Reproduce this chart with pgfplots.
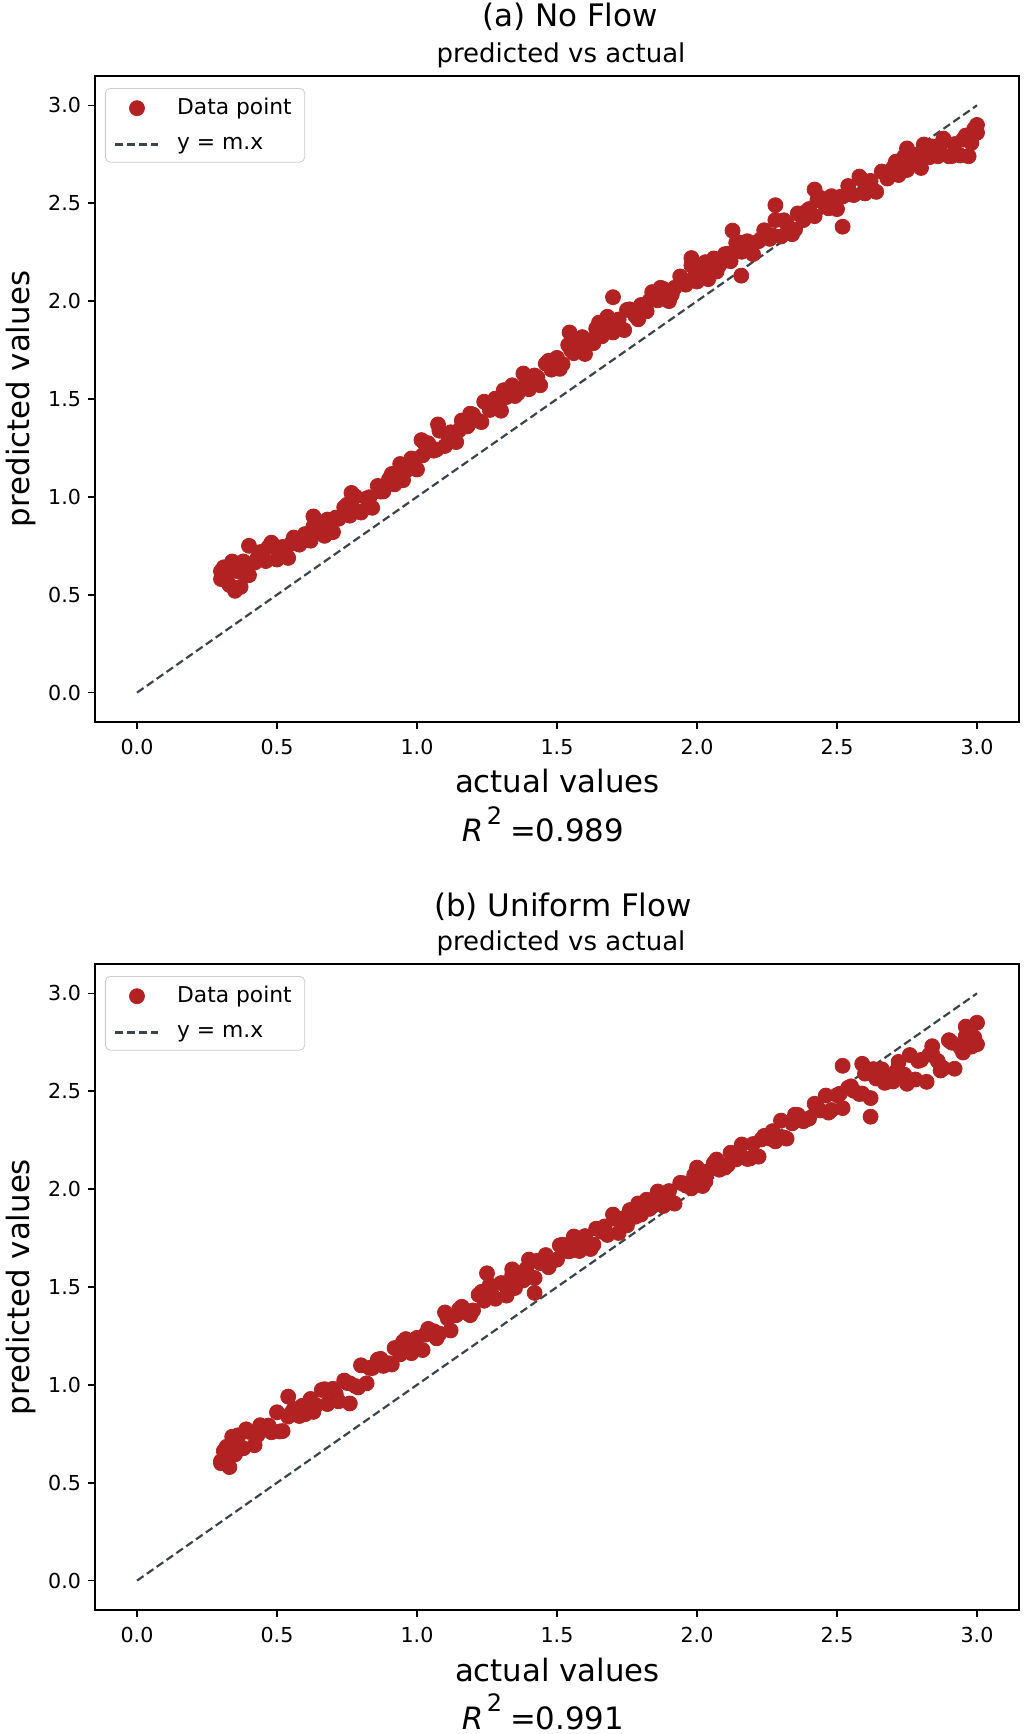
\documentclass[border=0pt]{standalone}
\usepackage{pgfplots}
\pgfplotsset{compat=1.18}
\usepackage{pgfplotstable}
\usepackage{fontspec}
\setmainfont{DejaVu Sans}
\definecolor{fb}{RGB}{178,34,34}
\definecolor{dsg}{RGB}{58,68,74}

\pgfplotstableread{
x y
0.30 0.62
0.32 0.58
0.34 0.67
0.36 0.62
0.38 0.67
0.40 0.60
0.42 0.664
0.44 0.718
0.46 0.672
0.48 0.766
0.50 0.68
0.52 0.744
0.54 0.688
0.56 0.792
0.58 0.756
0.60 0.81
0.62 0.776
0.64 0.872
0.66 0.828
0.68 0.884
0.70 0.82
0.72 0.888
0.74 0.946
0.76 0.904
0.78 1.002
0.80 0.92
0.82 0.992
0.84 0.944
0.86 1.056
0.88 1.028
0.90 1.09
0.92 1.064
0.94 1.168
0.96 1.132
0.98 1.196
1.00 1.14
1.02 1.212
1.04 1.274
1.06 1.236
1.08 1.338
1.10 1.26
1.12 1.33
1.14 1.28
1.16 1.39
1.18 1.36
1.20 1.42
1.22 1.388
1.24 1.486
1.26 1.444
1.28 1.502
1.30 1.44
1.32 1.51
1.34 1.57
1.36 1.53
1.38 1.63
1.40 1.55
1.42 1.62
1.44 1.57
1.46 1.68
1.48 1.65
1.50 1.71
1.52 1.678
1.54 1.776
1.56 1.734
1.58 1.792
1.60 1.73
1.62 1.80
1.64 1.86
1.66 1.82
1.68 1.92
1.70 1.84
1.72 1.906
1.74 1.852
1.76 1.958
1.78 1.924
1.80 1.98
1.82 1.948
1.84 2.046
1.86 2.004
1.88 2.062
1.90 2.00
1.92 2.068
1.94 2.126
1.96 2.084
1.98 2.182
2.00 2.10
2.02 2.166
2.04 2.112
2.06 2.218
2.08 2.184
2.10 2.24
2.12 2.204
2.14 2.298
2.16 2.252
2.18 2.306
2.20 2.24
2.22 2.306
2.24 2.362
2.26 2.318
2.28 2.414
2.30 2.33
2.32 2.396
2.34 2.342
2.36 2.448
2.38 2.414
2.40 2.47
2.42 2.434
2.44 2.528
2.46 2.482
2.48 2.536
2.50 2.47
2.52 2.534
2.54 2.588
2.56 2.542
2.58 2.636
2.60 2.55
2.62 2.614
2.64 2.558
2.66 2.662
2.68 2.626
2.70 2.68
2.72 2.644
2.74 2.738
2.76 2.692
2.78 2.746
2.80 2.68
2.82 2.74
2.84 2.79
2.86 2.74
2.88 2.83
2.90 2.74
2.92 2.802
2.94 2.744
2.96 2.846
2.98 2.808
3.00 2.86
0.31 0.595
0.35 0.66
0.39 0.60
0.43 0.686
0.47 0.744
0.51 0.702
0.55 0.76
0.59 0.773
0.63 0.849
0.67 0.801
0.71 0.894
0.75 0.96
0.79 0.926
0.83 0.998
0.87 1.027
0.91 1.117
0.95 1.085
0.99 1.193
1.03 1.268
1.07 1.242
1.11 1.315
1.15 1.34
1.19 1.425
1.23 1.382
1.27 1.478
1.31 1.545
1.35 1.515
1.39 1.585
1.43 1.61
1.47 1.695
1.51 1.654
1.55 1.75
1.59 1.816
1.63 1.785
1.67 1.855
1.71 1.878
1.75 1.955
1.79 1.907
1.83 2.002
1.87 2.068
1.91 2.034
1.95 2.10
1.99 2.121
2.03 2.199
2.07 2.151
2.11 2.242
2.15 2.30
2.19 2.258
2.23 2.319
2.27 2.336
2.31 2.413
2.35 2.365
2.39 2.457
2.43 2.516
2.47 2.474
2.51 2.532
2.55 2.545
2.59 2.618
2.63 2.566
2.67 2.654
2.71 2.712
2.75 2.67
2.79 2.728
2.83 2.735
2.87 2.80
2.91 2.741
2.95 2.825
2.99 2.879
0.33 0.55
0.35 0.52
0.37 0.54
0.30 0.58
0.31 0.64
0.40 0.75
0.766 1.02
1.016 1.29
1.075 1.37
1.545 1.84
1.65 1.89
1.70 2.02
1.98 2.22
2.127 2.36
2.158 2.13
2.28 2.49
2.42 2.57
2.52 2.38
2.75 2.78
2.81 2.80
2.97 2.74
3.00 2.90
2.96 2.84
0.63 0.90
}\dataA

\pgfplotstableread{
x y
0.30 0.60
0.32 0.684
0.34 0.658
0.36 0.742
0.38 0.676
0.40 0.76
0.42 0.692
0.44 0.794
0.46 0.776
0.48 0.758
0.50 0.86
0.52 0.764
0.54 0.838
0.56 0.877
0.58 0.841
0.60 0.85
0.62 0.928
0.64 0.896
0.66 0.974
0.68 0.902
0.70 0.98
0.72 0.916
0.74 1.022
0.76 1.008
0.78 0.994
0.80 1.10
0.82 1.008
0.84 1.086
0.86 1.129
0.88 1.097
0.90 1.11
0.92 1.188
0.94 1.156
0.96 1.234
0.98 1.162
1.00 1.24
1.02 1.178
1.04 1.286
1.06 1.274
1.08 1.262
1.10 1.37
1.12 1.278
1.14 1.356
1.16 1.399
1.18 1.367
1.20 1.38
1.22 1.46
1.24 1.43
1.26 1.51
1.28 1.44
1.30 1.52
1.32 1.456
1.34 1.562
1.36 1.548
1.38 1.534
1.40 1.64
1.42 1.546
1.44 1.622
1.46 1.663
1.48 1.629
1.50 1.64
1.52 1.716
1.54 1.682
1.56 1.758
1.58 1.684
1.60 1.76
1.62 1.694
1.64 1.798
1.66 1.782
1.68 1.766
1.70 1.87
1.72 1.776
1.74 1.852
1.76 1.893
1.78 1.859
1.80 1.87
1.82 1.946
1.84 1.912
1.86 1.988
1.88 1.914
1.90 1.99
1.92 1.926
1.94 2.032
1.96 2.018
1.98 2.004
2.00 2.11
2.02 2.016
2.04 2.092
2.06 2.133
2.08 2.099
2.10 2.11
2.12 2.186
2.14 2.152
2.16 2.228
2.18 2.154
2.20 2.23
2.22 2.166
2.24 2.272
2.26 2.258
2.28 2.244
2.30 2.35
2.32 2.258
2.34 2.336
2.36 2.379
2.38 2.347
2.40 2.36
2.42 2.436
2.44 2.402
2.46 2.478
2.48 2.404
2.50 2.48
2.52 2.414
2.54 2.518
2.56 2.502
2.58 2.486
2.60 2.59
2.62 2.465
2.64 2.565
2.66 2.612
2.68 2.548
2.70 2.55
2.72 2.65
2.74 2.585
2.76 2.685
2.78 2.56
2.80 2.66
2.82 2.548
2.84 2.691
2.86 2.654
2.88 2.617
2.90 2.76
2.92 2.615
2.94 2.725
2.96 2.782
2.98 2.728
3.00 2.74
0.31 0.662
0.35 0.645
0.39 0.773
0.43 0.743
0.47 0.792
0.51 0.762
0.55 0.855
0.59 0.893
0.63 0.862
0.67 0.978
0.71 0.953
0.75 1.01
0.79 0.987
0.83 1.087
0.87 1.133
0.91 1.104
0.95 1.22
0.99 1.196
1.03 1.257
1.07 1.238
1.11 1.339
1.15 1.385
1.19 1.356
1.23 1.475
1.27 1.455
1.31 1.518
1.35 1.495
1.39 1.592
1.43 1.634
1.47 1.601
1.51 1.713
1.55 1.685
1.59 1.742
1.63 1.716
1.67 1.809
1.71 1.848
1.75 1.815
1.79 1.927
1.83 1.899
1.87 1.956
1.91 1.933
1.95 2.03
1.99 2.072
2.03 2.039
2.07 2.151
2.11 2.123
2.15 2.18
2.19 2.157
2.23 2.254
2.27 2.296
2.31 2.264
2.35 2.38
2.39 2.356
2.43 2.414
2.47 2.391
2.51 2.487
2.55 2.525
2.59 2.488
2.63 2.613
2.67 2.543
2.71 2.60
2.75 2.538
2.79 2.655
2.83 2.687
2.87 2.606
2.91 2.748
2.95 2.698
2.99 2.775
0.30 0.61
0.32 0.60
0.33 0.58
0.34 0.735
0.36 0.73
0.76 0.905
1.42 1.47
1.25 1.57
1.34 1.59
2.52 2.63
2.59 2.64
2.62 2.37
2.96 2.83
3.00 2.85
2.99 2.75
2.90 2.76
2.84 2.73
0.54 0.94
}\dataB

\pgfplotsset{
  pvstyle/.style={
    scale only axis, width=462pt, height=323pt,
    xmin=-0.15, xmax=3.15, ymin=-0.15, ymax=3.15,
    xtick={0,0.5,1,1.5,2,2.5,3}, ytick={0,0.5,1,1.5,2,2.5,3},
    tick align=outside, tick pos=left,
    major tick length=3.5pt,
    every tick/.style={black, line width=0.8pt},
    axis line style={black, line width=1pt},
    /pgf/number format/fixed, /pgf/number format/precision=1,
    /pgf/number format/fixed zerofill,
    /pgf/number format/assume math mode=true,
    ticklabel style={font=\fontsize{10.3}{12}\selectfont},
    xticklabel style={yshift=-1.5pt},
    legend cell align=left,
    legend style={at={(0.0108,0.9814)}, anchor=north west,
      draw=black!20, rounded corners=2.5pt, fill=white,
      font=\fontsize{10.9}{13}\selectfont,
      inner xsep=4.5pt, inner ysep=3pt, row sep=5.5pt,
      /tikz/every odd column/.append style={column sep=6.8pt}},
  },
  scat/.style={only marks, mark=*, mark size=3.75pt, color=fb,
    legend image code/.code={\draw[mark repeat=2,mark phase=2,##1] plot coordinates {(0pt,0pt) (10.75pt,0pt) (21.5pt,0pt)};}},
  diag/.style={dsg, line width=1.1pt, dash pattern=on 4pt off 2pt, no marks,
    legend image code/.code={\draw[##1] (0pt,0pt) -- (21.5pt,0pt);}},
}

\newcommand{\rsq}[1]{\fontsize{15.4}{18}\selectfont\textit{R}\hspace{1.8pt}\raisebox{1.05ex}{\fontsize{12}{13}\selectfont 2}\hspace{4pt}=#1}

\begin{document}
\begin{tikzpicture}
\path[use as bounding box] (-47.5pt,-62pt) rectangle (465pt,805pt);

\begin{axis}[pvstyle, at={(0pt,444pt)}, anchor=south west]
\addplot[scat] table {\dataA};
\addlegendentry{Data point}
\addplot[diag] coordinates {(0,0) (3,3)};
\addlegendentry{y = m.x}
\end{axis}

\begin{axis}[pvstyle, at={(0pt,0pt)}, anchor=south west]
\addplot[scat] table {\dataB};
\addlegendentry{Data point}
\addplot[diag] coordinates {(0,0) (3,3)};
\addlegendentry{y = m.x}
\end{axis}

% panel (a) texts
\node[anchor=base, inner sep=0pt, font=\fontsize{15.5}{18}\selectfont] at (237.5pt,791.5pt) {(a) No Flow};
\node[anchor=base, inner sep=0pt, font=\fontsize{13}{15}\selectfont] at (233pt,773.5pt) {predicted vs actual};
\node[anchor=base, inner sep=0pt, font=\fontsize{15.4}{18}\selectfont] at (231.25pt,408.5pt) {actual values};
\node[anchor=base, inner sep=0pt, text depth=0pt] at (224pt,384pt) {\rsq{0.989}};
\node[anchor=base, inner sep=0pt, rotate=90, font=\fontsize{15.4}{18}\selectfont] at (-33pt,605.5pt) {predicted values};

% panel (b) texts
\node[anchor=base, inner sep=0pt, font=\fontsize{15.5}{18}\selectfont] at (234pt,346.5pt) {(b) Uniform Flow};
\node[anchor=base, inner sep=0pt, font=\fontsize{13}{15}\selectfont] at (233pt,329.5pt) {predicted vs actual};
\node[anchor=base, inner sep=0pt, font=\fontsize{15.4}{18}\selectfont] at (231.25pt,-35.5pt) {actual values};
\node[anchor=base, inner sep=0pt, text depth=0pt] at (224pt,-59.5pt) {\rsq{0.991}};
\node[anchor=base, inner sep=0pt, rotate=90, font=\fontsize{15.4}{18}\selectfont] at (-33pt,161.5pt) {predicted values};
\end{tikzpicture}
\end{document}
